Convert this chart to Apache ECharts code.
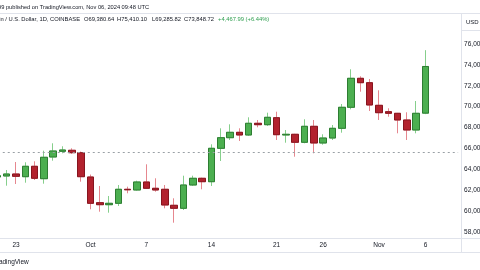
<!DOCTYPE html>
<html><head><meta charset="utf-8">
<script src="https://cdn.jsdelivr.net/npm/echarts@6/dist/echarts.min.js"></script>
<style>html,body{margin:0;padding:0;background:#fff}#c{width:480px;height:270px}</style>
</head><body><div id="c"></div>
<script>
// Categories (daily, BTC/USD Coinbase)
const dates = ['Sep 21','Sep 22','Sep 23','Sep 24','Sep 25','Sep 26','Sep 27','Sep 28','Sep 29','Sep 30',
  'Oct 1','Oct 2','Oct 3','Oct 4','Oct 5','Oct 6','Oct 7','Oct 8','Oct 9','Oct 10','Oct 11','Oct 12','Oct 13',
  'Oct 14','Oct 15','Oct 16','Oct 17','Oct 18','Oct 19','Oct 20','Oct 21','Oct 22','Oct 23','Oct 24','Oct 25',
  'Oct 26','Oct 27','Oct 28','Oct 29','Oct 30','Oct 31','Nov 1','Nov 2','Nov 3','Nov 4','Nov 5','Nov 6',
  'Nov 7','Nov 8','Nov 9'];
const opens  = [63267,63362,63554,63295,64291,63104,65181,65727,65823,65593,63267,60806,60614,60748,62089,62022,62788,62185,62089,60557,60270,62501,63142,62817,66014,67029,67546,67288,68408,68274,68944,67288,67355,66589,68120,66522,67000,67929,69940,72716,72295,70131,69518,69365,68724,67766,69380.64];
const highs  = [63700,63937,64703,64674,64770,65785,66493,66206,66014,65700,63500,62405,61448,62501,62338,62912,64482,63142,62501,61227,63391,63391,63200,66397,67929,68312,67929,68982,68724,69423,69518,67766,67400,68791,68724,67355,68245,70256,73578,72908,72649,71567,69844,69400,69461,70543,75410.10];
const lows   = [62900,62434,62596,62721,62979,62625,64827,65536,65480,62817,60174,59944,59849,60490,61706,61955,62118,61859,60270,58891,60107,62405,62089,62405,64798,66809,66713,67192,68025,68150,66809,66550,65210,66493,65536,66359,66809,67508,69748,71433,69585,68724,69040,67450,66809,67450,69285.82];
const closes = [63391,63554,63333,64291,63142,65153,65756,65852,65593,63295,60748,60614,60748,62089,62040,62788,62185,62022,60586,60270,62501,63142,62817,66014,67029,67546,67288,68408,68274,68982,67316,67355,66589,68120,66522,67000,67929,69940,72716,72295,70160,69423,69365,68724,67766,69365,73848.72];
// Tick labels
const tickDates = ['Sep 23','Oct 1','Oct 7','Oct 14','Oct 21','Oct 26','Nov 1','Nov 6'];
const tickTexts = ['23','Oct','7','14','21','26','Nov','6'];
const levelLine = 65593;

const wickData = opens.map((o,i)=>[o, closes[i], lows[i], highs[i]]);
const bodyData = opens.map((o,i)=>[o, closes[i], Math.min(o,closes[i]), Math.max(o,closes[i])]);
const lastClose = closes[closes.length-1];
const fmt = v => Number(v).toLocaleString('en-US',{minimumFractionDigits:2, maximumFractionDigits:2});
const FONT = 'Liberation Sans';
const chart = echarts.init(document.getElementById('c'), null, {renderer:'canvas'});
const sep = '#e0e3eb';
chart.setOption({
  animation:false,
  backgroundColor:'#ffffff',
  textStyle:{fontFamily:FONT},
  grid:{left:-7.25, width:465.35, top:44, height:188, containLabel:false, outerBoundsMode:'none'},
  xAxis:{type:'category', data:dates, boundaryGap:true, offset:6,
    axisLine:{show:false}, axisTick:{show:false}, splitLine:{show:false},
    axisLabel:{interval:(i,v)=>tickDates.includes(v), formatter:v=>{const k=tickDates.indexOf(v);return k>=0?tickTexts[k]:'';},
      color:'#131722', fontSize:6.5, fontFamily:FONT, margin:4, hideOverlap:false}},
  yAxis:{type:'value', position:'right', min:58000, max:76000, interval:2000, offset:3,
    axisLine:{show:false}, axisTick:{show:false}, splitLine:{show:false},
    axisLabel:{formatter:v=>fmt(v), color:'#131722', fontSize:6.5, fontFamily:FONT, margin:3, align:'left', hideOverlap:false}},
  series:[
    {type:'candlestick', data:wickData, barWidth:7, clip:false,
      itemStyle:{color:'#8fd19a', color0:'#e8939a', borderColor:'#86cf8c', borderColor0:'#e6878f', borderWidth:1},
      markLine:{silent:true, symbol:'none', animation:false,
        data:[
          {yAxis:levelLine, lineStyle:{type:[2,3], color:'#9aa0a6', width:1}, label:{show:false}},
          {yAxis:lastClose, lineStyle:{opacity:0, width:0},
           label:{show:true, position:'end', distance:4, formatter:()=>fmt(lastClose), color:'#ffffff', fontWeight:'bold',
             backgroundColor:'#131722', padding:[2,2,1,2], fontSize:6.5, fontFamily:FONT}}
        ]}},
    {type:'candlestick', data:bodyData, barWidth:7, clip:false,
      itemStyle:{color:'#4caf50', color0:'#b2222e', borderColor:'#2e7d32', borderColor0:'#86151f', borderWidth:1}}
  ],
  graphic:[
    {type:'line', shape:{x1:0,y1:13.5,x2:480,y2:13.5}, style:{stroke:sep,lineWidth:1}},
    {type:'line', shape:{x1:0,y1:238.5,x2:480,y2:238.5}, style:{stroke:sep,lineWidth:1}},
    {type:'line', shape:{x1:0,y1:252.5,x2:480,y2:252.5}, style:{stroke:sep,lineWidth:1}},
    {type:'line', shape:{x1:461.5,y1:13,x2:461.5,y2:252}, style:{stroke:sep,lineWidth:1}},
    {type:'line', shape:{x1:461.5,y1:30.5,x2:480,y2:30.5}, style:{stroke:sep,lineWidth:1}},
    {type:'text', x:-2, y:7, style:{text:'99 published on TradingView.com, Nov 06, 2024 09:48 UTC', font:'5.7px '+FONT, fill:'#131722', textVerticalAlign:'middle'}},
    {type:'text', x:80, y:19.5, style:{text:'Bitcoin / U.S. Dollar, 1D, COINBASE', font:'5.8px '+FONT, fill:'#131722', textAlign:'right', textVerticalAlign:'middle'}},
    {type:'text', x:84, y:19.5, style:{text:'O69,380.64', font:'5.8px '+FONT, fill:'#131722', textVerticalAlign:'middle'}},
    {type:'text', x:117, y:19.5, style:{text:'H75,410.10', font:'5.8px '+FONT, fill:'#131722', textVerticalAlign:'middle'}},
    {type:'text', x:152, y:19.5, style:{text:'L69,285.82', font:'5.8px '+FONT, fill:'#131722', textVerticalAlign:'middle'}},
    {type:'text', x:184, y:19.5, style:{text:'C73,848.72', font:'5.8px '+FONT, fill:'#131722', textVerticalAlign:'middle'}},
    {type:'text', x:218, y:19.5, style:{text:'+4,467.99 (+6.44%)', font:'5.8px '+FONT, fill:'#2e9e4f', textVerticalAlign:'middle'}},
    {type:'text', x:466, y:22, style:{text:'USD', font:'6px '+FONT, fill:'#131722', textVerticalAlign:'middle'}},
    {type:'text', x:-7, y:262, style:{text:'TradingView', font:'6.5px '+FONT, fill:'#131722', textVerticalAlign:'middle'}}
  ]
});
</script></body></html>
